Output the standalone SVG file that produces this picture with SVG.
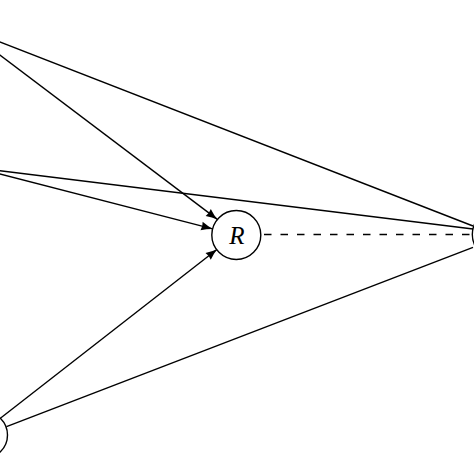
<svg xmlns="http://www.w3.org/2000/svg" width="474" height="474" viewBox="0 0 474 474">
<defs>
<style>
.node{fill:#fff;stroke:#000;stroke-width:1.4}
.edge{fill:none;stroke:#000;stroke-width:1.4}
.dash{stroke-dasharray:7.5 9;stroke-dashoffset:13}
.lbl{font-family:"Liberation Serif",serif;font-style:italic;font-size:25px;fill:#000}
</style>
<marker id="arr" viewBox="-12 -5 13 10" refX="0" refY="0" markerWidth="13" markerHeight="10" markerUnits="userSpaceOnUse" orient="auto">
<path d="M0,0 Q-5.5,-1.3 -11.5,-4.3 Q-10,0 -11.5,4.3 Q-5.5,1.3 0,0 Z" fill="#000"/>
</marker>
</defs>
<rect width="474" height="474" fill="#fff"/>
<g id="connectors">
<line class="edge" x1="-2" y1="41.2" x2="473" y2="226"/>
<line class="edge" x1="-2" y1="53.5" x2="217.4" y2="219.4" marker-end="url(#arr)"/>
<line class="edge" x1="-2" y1="170.5" x2="473" y2="229"/>
<line class="edge" x1="-2" y1="173.5" x2="212.7" y2="228.9" marker-end="url(#arr)"/>
<line class="edge" x1="1" y1="417.7" x2="217.2" y2="249.3" marker-end="url(#arr)"/>
<line class="edge" x1="6.5" y1="426.7" x2="473" y2="247.3"/>
<line class="edge dash" x1="260.5" y1="234.5" x2="472.5" y2="234.5"/>
</g>
<g id="node-R">
<circle class="node" cx="236.3" cy="235" r="24.5"/>
<text class="lbl" x="237" y="243.5" text-anchor="middle">R</text>
</g>
<g id="node-right">
<circle class="node" cx="496.8" cy="234.5" r="24.5"/>
</g>
<g id="node-bottom-left">
<circle class="node" cx="-16" cy="435" r="23.5"/>
</g>
</svg>
